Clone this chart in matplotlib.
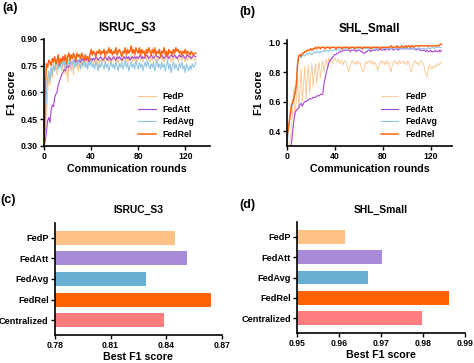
import numpy as np
import matplotlib
matplotlib.use("Agg")
import matplotlib.pyplot as plt

plt.rcParams["font.family"] = ["Liberation Sans", "DejaVu Sans"]
plt.rcParams["font.weight"] = "bold"

# ---- data: F1 score per communication round ----
a_fedp = [0.30,0.38,0.48,0.60,0.70,0.64,0.74,0.68,0.76,0.72,
          0.78,0.70,0.77,0.74,0.79,0.72,0.76,0.80,0.70,0.78,
          0.66,0.75,0.79,0.72,0.77,0.70,0.80,0.74,0.78,0.72,
          0.79,0.75,0.78,0.74,0.80,0.76,0.78,0.75,0.79,0.77,
          0.76,0.79,0.75,0.78,0.76,0.79,0.74,0.78,0.77,0.79,
          0.77,0.80,0.76,0.78,0.79,0.77,0.80,0.76,0.79,0.78,
          0.80,0.77,0.79,0.76,0.80,0.78,0.79,0.77,0.80,0.78,
          0.79,0.76,0.80,0.78,0.81,0.77,0.79,0.78,0.80,0.77,
          0.79,0.81,0.78,0.80,0.77,0.79,0.80,0.78,0.81,0.79,
          0.77,0.80,0.78,0.81,0.79,0.77,0.80,0.78,0.79,0.81,
          0.78,0.80,0.77,0.79,0.81,0.78,0.80,0.79,0.77,0.80,
          0.78,0.81,0.79,0.80,0.77,0.79,0.81,0.78,0.80,0.79,
          0.77,0.80,0.78,0.79,0.81,0.78,0.80,0.79,0.78,0.79]
a_fedatt = [0.30,0.33,0.38,0.44,0.46,0.43,0.50,0.53,0.52,0.57,
            0.59,0.60,0.64,0.66,0.68,0.70,0.71,0.73,0.72,0.74,
            0.75,0.74,0.76,0.77,0.76,0.77,0.78,0.77,0.78,0.77,
            0.78,0.77,0.79,0.78,0.77,0.79,0.78,0.79,0.77,0.78,
            0.79,0.78,0.79,0.78,0.80,0.79,0.78,0.79,0.80,0.79,
            0.78,0.79,0.80,0.79,0.78,0.80,0.79,0.78,0.79,0.80,
            0.79,0.78,0.80,0.79,0.80,0.79,0.78,0.79,0.80,0.79,
            0.80,0.79,0.80,0.78,0.79,0.80,0.79,0.80,0.79,0.80,
            0.79,0.80,0.81,0.79,0.80,0.79,0.80,0.81,0.80,0.79,
            0.80,0.81,0.80,0.79,0.80,0.81,0.80,0.80,0.79,0.80,
            0.81,0.80,0.79,0.80,0.81,0.80,0.79,0.80,0.81,0.80,
            0.80,0.81,0.80,0.79,0.80,0.81,0.80,0.80,0.81,0.80,
            0.79,0.80,0.81,0.80,0.80,0.79,0.80,0.81,0.80,0.80]
a_fedavg = [0.30,0.45,0.60,0.68,0.72,0.66,0.74,0.70,0.76,0.72,
            0.75,0.78,0.73,0.77,0.74,0.78,0.75,0.79,0.73,0.77,
            0.75,0.78,0.74,0.77,0.76,0.79,0.74,0.77,0.75,0.78,
            0.76,0.73,0.77,0.75,0.78,0.74,0.76,0.73,0.77,0.75,
            0.78,0.74,0.76,0.73,0.77,0.75,0.72,0.76,0.74,0.77,
            0.75,0.73,0.77,0.74,0.76,0.72,0.75,0.77,0.74,0.76,
            0.73,0.77,0.75,0.72,0.76,0.74,0.77,0.73,0.75,0.78,
            0.74,0.76,0.72,0.75,0.77,0.74,0.76,0.73,0.78,0.75,
            0.73,0.77,0.74,0.76,0.72,0.75,0.77,0.74,0.78,0.75,
            0.73,0.76,0.74,0.77,0.72,0.75,0.78,0.74,0.76,0.73,
            0.77,0.74,0.76,0.72,0.75,0.78,0.73,0.76,0.71,0.75,
            0.77,0.73,0.76,0.74,0.72,0.76,0.74,0.77,0.73,0.75,
            0.71,0.76,0.74,0.72,0.75,0.73,0.76,0.74,0.75,0.77]
a_fedrel = [0.30,0.62,0.76,0.74,0.78,0.77,0.75,0.79,0.77,0.80,
            0.76,0.78,0.81,0.75,0.79,0.77,0.80,0.78,0.81,0.76,
            0.80,0.82,0.78,0.81,0.79,0.82,0.80,0.78,0.82,0.80,
            0.81,0.79,0.82,0.80,0.78,0.81,0.79,0.80,0.78,0.81,
            0.84,0.81,0.83,0.82,0.80,0.83,0.82,0.84,0.81,0.83,
            0.82,0.84,0.80,0.83,0.82,0.85,0.82,0.84,0.81,0.83,
            0.82,0.85,0.81,0.83,0.84,0.82,0.80,0.83,0.82,0.85,
            0.81,0.84,0.82,0.83,0.86,0.82,0.84,0.81,0.85,0.83,
            0.82,0.85,0.81,0.84,0.82,0.83,0.80,0.84,0.82,0.85,
            0.83,0.81,0.84,0.82,0.85,0.81,0.83,0.82,0.84,0.80,
            0.83,0.82,0.85,0.81,0.83,0.80,0.84,0.82,0.83,0.81,
            0.84,0.82,0.85,0.83,0.84,0.82,0.83,0.81,0.83,0.82,
            0.84,0.81,0.83,0.82,0.81,0.83,0.82,0.81,0.82,0.82]

b_fedp = [0.28,0.30,0.32,0.35,0.42,0.55,0.70,0.50,0.62,0.78,
          0.55,0.68,0.82,0.60,0.72,0.84,0.62,0.75,0.85,0.66,
          0.78,0.86,0.70,0.80,0.86,0.72,0.82,0.87,0.76,0.84,
          0.88,0.80,0.86,0.89,0.84,0.90,0.87,0.89,0.86,0.88,
          0.90,0.88,0.87,0.89,0.86,0.88,0.87,0.85,0.88,0.87,
          0.86,0.82,0.80,0.85,0.87,0.88,0.86,0.87,0.85,0.88,
          0.86,0.87,0.84,0.81,0.80,0.85,0.87,0.86,0.88,0.87,
          0.86,0.88,0.85,0.87,0.86,0.84,0.81,0.85,0.87,0.88,
          0.86,0.87,0.85,0.88,0.86,0.87,0.82,0.80,0.85,0.87,
          0.88,0.86,0.87,0.85,0.88,0.86,0.87,0.88,0.86,0.87,
          0.85,0.88,0.86,0.82,0.80,0.85,0.87,0.88,0.86,0.87,
          0.85,0.86,0.88,0.87,0.86,0.82,0.78,0.77,0.82,0.85,
          0.84,0.82,0.84,0.83,0.85,0.84,0.86,0.85,0.86,0.87]
b_fedatt = [0.25,0.24,0.26,0.28,0.32,0.40,0.48,0.53,0.54,0.55,
            0.56,0.58,0.59,0.57,0.59,0.60,0.60,0.61,0.61,0.62,
            0.62,0.62,0.63,0.63,0.63,0.64,0.64,0.64,0.65,0.65,
            0.65,0.72,0.76,0.80,0.83,0.86,0.88,0.89,0.90,0.91,
            0.92,0.92,0.93,0.93,0.94,0.94,0.94,0.95,0.95,0.95,
            0.95,0.95,0.95,0.94,0.95,0.95,0.95,0.95,0.94,0.95,
            0.95,0.95,0.94,0.94,0.93,0.93,0.94,0.94,0.95,0.95,
            0.94,0.95,0.95,0.95,0.95,0.96,0.95,0.95,0.96,0.95,
            0.95,0.96,0.95,0.96,0.96,0.95,0.96,0.96,0.96,0.95,
            0.96,0.96,0.96,0.95,0.96,0.96,0.96,0.96,0.96,0.96,
            0.96,0.96,0.96,0.96,0.96,0.96,0.96,0.96,0.95,0.96,
            0.96,0.95,0.95,0.95,0.95,0.95,0.94,0.95,0.94,0.94,
            0.95,0.94,0.94,0.94,0.95,0.94,0.94,0.95,0.94,0.95]
b_fedavg = [0.30,0.37,0.45,0.51,0.56,0.60,0.63,0.66,0.73,0.87,
            0.91,0.91,0.90,0.91,0.92,0.91,0.92,0.93,0.92,0.93,
            0.93,0.92,0.93,0.94,0.93,0.94,0.94,0.93,0.94,0.94,
            0.94,0.95,0.94,0.95,0.95,0.94,0.95,0.95,0.95,0.95,
            0.95,0.96,0.95,0.96,0.96,0.95,0.96,0.96,0.96,0.96,
            0.96,0.96,0.97,0.96,0.96,0.97,0.96,0.96,0.97,0.96,
            0.96,0.97,0.96,0.96,0.96,0.97,0.96,0.96,0.96,0.96,
            0.97,0.96,0.96,0.96,0.97,0.96,0.96,0.97,0.96,0.96,
            0.96,0.96,0.97,0.96,0.96,0.97,0.96,0.96,0.97,0.97,
            0.96,0.96,0.97,0.96,0.97,0.96,0.96,0.97,0.96,0.97,
            0.96,0.97,0.96,0.96,0.97,0.96,0.97,0.96,0.96,0.96,
            0.97,0.96,0.96,0.96,0.96,0.96,0.96,0.96,0.97,0.96,
            0.96,0.97,0.97,0.96,0.97,0.97,0.97,0.97,0.97,0.97]
b_fedrel = [0.36,0.40,0.46,0.52,0.58,0.60,0.63,0.66,0.72,0.85,
            0.91,0.92,0.91,0.93,0.93,0.94,0.94,0.95,0.95,0.95,
            0.96,0.95,0.96,0.96,0.97,0.96,0.97,0.97,0.96,0.97,
            0.97,0.97,0.96,0.97,0.97,0.97,0.96,0.97,0.97,0.97,
            0.97,0.96,0.97,0.97,0.97,0.97,0.96,0.97,0.97,0.97,
            0.97,0.97,0.96,0.97,0.97,0.97,0.97,0.96,0.97,0.97,
            0.97,0.97,0.97,0.96,0.97,0.97,0.97,0.97,0.97,0.97,
            0.96,0.97,0.97,0.97,0.97,0.97,0.97,0.97,0.96,0.97,
            0.97,0.97,0.97,0.97,0.97,0.97,0.97,0.98,0.97,0.97,
            0.97,0.97,0.98,0.97,0.97,0.97,0.98,0.97,0.97,0.98,
            0.97,0.98,0.98,0.97,0.98,0.98,0.97,0.98,0.98,0.98,
            0.98,0.98,0.98,0.98,0.98,0.98,0.98,0.98,0.98,0.98,
            0.98,0.98,0.98,0.98,0.98,0.98,0.98,0.98,0.99,0.99]

methods = ["FedP", "FedAtt", "FedAvg", "FedRel", "Centralized"]
best_isruc = [0.845, 0.851, 0.829, 0.864, 0.839]
best_shl = [0.9613, 0.9702, 0.9669, 0.9861, 0.9797]

line_colors = {"FedP": "#F9C58F", "FedAtt": "#A845D6", "FedAvg": "#8EC5E3", "FedRel": "#FF6410"}
bar_colors = ["#FFC285", "#A88BD8", "#69AFD3", "#FF6200", "#FF7C7F"]

fig = plt.figure(figsize=(4.74, 3.63), dpi=100)


def style_axes(ax):
    for side in ("top", "right"):
        ax.spines[side].set_visible(False)
    for side in ("left", "bottom"):
        ax.spines[side].set_linewidth(1.2)
    ax.tick_params(width=1.0, length=3, labelsize=6.2, pad=1.5)
    for lab in ax.get_xticklabels() + ax.get_yticklabels():
        lab.set_fontweight("bold")


def line_panel(rect, series, title, ylim, yticks, yfmt, xmax, fedp_lw):
    ax = fig.add_axes(rect)
    for name in ["FedP", "FedAtt", "FedAvg", "FedRel"]:
        y = series[name]
        lw = 1.1 if name == "FedRel" else 0.8
        if name == "FedP":
            lw = fedp_lw
        ax.plot(np.arange(len(y)), y, color=line_colors[name], lw=lw, label=name)
    ax.set_xlim(0, xmax)
    ax.set_ylim(*ylim)
    ax.set_xticks([0, 40, 80, 120])
    ax.set_yticks(yticks)
    ax.set_yticklabels([yfmt.format(v) for v in yticks])
    ax.set_title(title, fontsize=8.5, fontweight="bold", pad=6)
    ax.set_xlabel("Communication rounds", fontsize=7.7, fontweight="bold", labelpad=2)
    ax.set_ylabel("F1 score", fontsize=7.8, fontweight="bold", labelpad=3)
    leg = ax.legend(loc="lower right", frameon=False, fontsize=6.3, handlelength=2.0,
                    labelspacing=0.4, borderaxespad=0.4, bbox_to_anchor=(0.95, 0.0))
    for t in leg.get_texts():
        t.set_fontweight("bold")
    style_axes(ax)
    return ax


def bar_panel(rect, values, title, xlim, xticks, xfmt):
    ax = fig.add_axes(rect)
    pos = np.arange(len(methods))
    ax.barh(pos, np.array(values) - xlim[0], left=xlim[0], height=0.68, color=bar_colors)
    ax.set_yticks(pos)
    ax.set_yticklabels(methods)
    ax.set_ylim(len(methods) - 0.28, -0.72)
    ax.set_xlim(*xlim)
    ax.set_xticks(xticks)
    ax.set_xticklabels([xfmt.format(v) for v in xticks])
    ax.set_title(title, fontsize=7.4, fontweight="bold", pad=7)
    ax.set_xlabel("Best F1 score", fontsize=7.7, fontweight="bold", labelpad=1)
    style_axes(ax)
    ax.tick_params(axis="y", labelsize=6.6)
    for lab in ax.get_yticklabels():
        lab.set_fontweight("bold")
    return ax


line_panel([0.093, 0.598, 0.350, 0.295],
           {"FedP": a_fedp, "FedAtt": a_fedatt, "FedAvg": a_fedavg, "FedRel": a_fedrel},
           "ISRUC_S3", (0.30, 0.90), [0.30, 0.45, 0.60, 0.75, 0.90], "{:.2f}", 141, 0.8)
line_panel([0.605, 0.598, 0.349, 0.292],
           {"FedP": b_fedp, "FedAtt": b_fedatt, "FedAvg": b_fedavg, "FedRel": b_fedrel},
           "SHL_Small", (0.30, 1.02), [0.4, 0.6, 0.8, 1.0], "{:.1f}", 138, 0.6)
bar_panel([0.116, 0.077, 0.352, 0.309], best_isruc, "ISRUC_S3",
          (0.78, 0.87), [0.78, 0.81, 0.84, 0.87], "{:.2f}")
bar_panel([0.627, 0.083, 0.354, 0.305], best_shl, "SHL_Small",
          (0.95, 0.99), [0.95, 0.96, 0.97, 0.98, 0.99], "{:.2f}")

for label, x, y in [("(a)", 0.004, 0.978), ("(b)", 0.506, 0.968),
                    ("(c)", 0.000, 0.448), ("(d)", 0.506, 0.435)]:
    fig.text(x, y, label, fontsize=9, fontweight="bold", va="center", ha="left")

fig.savefig("out.png", dpi=100)
